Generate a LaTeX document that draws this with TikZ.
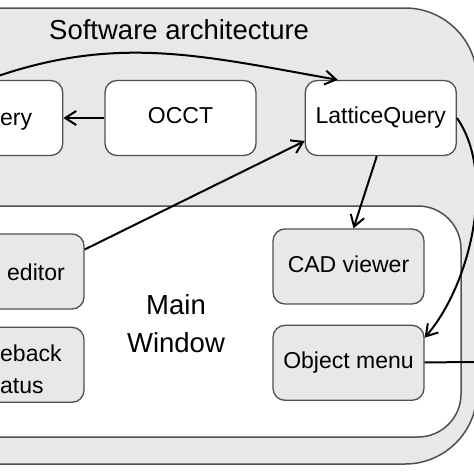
\documentclass[tikz,border=0pt]{standalone}
\usepackage{fontspec}
\setmainfont{Liberation Sans}
\usepackage{tikz}
\usetikzlibrary{positioning,arrows.meta}
\usepackage{xcolor}
\definecolor{panelgray}{HTML}{E8E8E8}
\definecolor{edgegray}{HTML}{505050}

\begin{document}
\begin{tikzpicture}[
      x=1pt, y=1pt,
      node distance=20pt and 48pt,
      wbox/.style={draw=edgegray, line width=1.3pt, fill=white, rounded corners=12pt,
                   minimum width=151pt, minimum height=75pt, text height=17pt, text depth=6pt,
                   font=\fontsize{23}{28}\selectfont},
      gbox/.style={wbox, fill=panelgray},
      txt/.style={font=\fontsize{23}{32}\selectfont, inner sep=0pt, align=left},
      big/.style={font=\fontsize{27.5}{38}\selectfont, inner sep=0pt, align=center},
      panel/.style={draw=edgegray, line width=1.5pt},
      conn/.style={line width=2pt, black},
      >={Straight Barb[length=11pt, width=14pt]}]
    \useasboundingbox (0,0) rectangle (474,-474);
    \clip (0,0) rectangle (474,-474);
    % panels
    \draw[panel, fill=panelgray, rounded corners=72pt] (-120,-8) rectangle (477,-464);
    \draw[panel, fill=white, rounded corners=43pt] (-120,-206) rectangle (461,-437);
    \node[big, anchor=base west] (title) at (49,-39) {Software architecture};
    \node[big] (mainwin) at (176,-324) {Main\\Window};
    % boxes
    \node[wbox] (occt) at (180.5,-118) {OCCT};
    \node[wbox, left=41pt of occt] (query) {};
    \node[wbox, right=of occt] (lattice) {LatticeQuery};
    \node[gbox] (cad) at (348.5,-266.5) {CAD viewer};
    \node[gbox, below=of cad] (objmenu) {Object menu};
    \node[gbox] (editor) at (8.5,-271.5) {};
    \node[gbox, below=17pt of editor] (feedback) {};
    % texts cut by the frame
    \node[txt, anchor=base west] (querytxt) at (0,-125) {ery};
    \node[txt, anchor=base west] (editortxt) at (7,-280) {editor};
    \node[txt, anchor=west] (feedbacktxt) at (0,-369) {eback\\atus};
    % connectors
    \draw[conn, ->] (occt) -- (query);
    \draw[conn, ->] (query.north) to[out=20, in=170] ([xshift=-43pt]lattice.north);
    \draw[conn, ->] ([yshift=22pt]editor.east) -- ([yshift=-23pt]lattice.west);
    \draw[conn, ->] ([xshift=-4pt]lattice.south) -- ([xshift=5pt]cad.north);
    \draw[conn, ->] (lattice.east) to[out=-55, in=49, looseness=0.8] ([yshift=-13pt]objmenu.north east);
    \coordinate (rightexit) at (490,-362);
    \draw[conn] (objmenu) -- (rightexit);
\end{tikzpicture}
\end{document}
